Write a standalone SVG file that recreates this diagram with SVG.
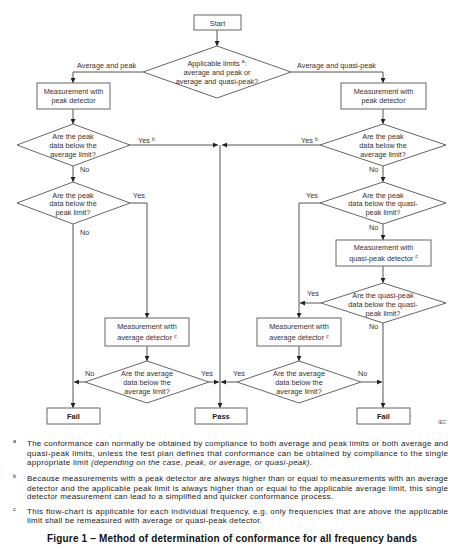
<svg xmlns="http://www.w3.org/2000/svg" width="474" height="553" viewBox="0 0 474 553">
<defs>
<marker id="ah" viewBox="0 0 6 6" refX="6" refY="3" markerWidth="5" markerHeight="5" orient="auto" markerUnits="userSpaceOnUse">
<path d="M0,0 L6,3 L0,6 z" fill="#222"/>
</marker>
<style>
.shape{fill:#fff;stroke:#666;stroke-width:1}
.ln{fill:none;stroke:#555;stroke-width:1;marker-end:url(#ah)}
.t{font-family:"Liberation Sans",Arial,sans-serif;font-size:7.3px;fill:#333;text-anchor:middle}
.lb{font-family:"Liberation Sans",Arial,sans-serif;font-size:7.3px;fill:#333}
.b{font-family:"Liberation Sans",Arial,sans-serif;font-size:7.5px;font-weight:bold;fill:#222;text-anchor:middle}
.fn{font-family:"Liberation Sans",Arial,sans-serif;font-size:8px;fill:#222}
.fl{font-family:"Liberation Sans",Arial,sans-serif;font-size:5.5px;fill:#222}
.sup{font-size:5px}
</style>
</defs>
<rect width="474" height="553" fill="#fff"/>

<g id="connectors">
<path class="ln" d="M217,30 V46"/>
<path class="ln" d="M143,72 H73 V83"/>
<path class="ln" d="M291,72 H383 V83"/>
<path class="ln" d="M73,109 V124"/>
<path class="ln" d="M130,145 H218"/>
<path class="ln" d="M73,166 V182"/>
<path class="ln" d="M130,203 H147 V318"/>
<path class="ln" d="M73,224 V408"/>
<path class="ln" d="M147,346 V361"/>
<path class="ln" d="M85,382 H74"/>
<path class="ln" d="M209,382 H219"/>
<path class="ln" d="M220,145 V408"/>
<path class="ln" d="M383,109 V124"/>
<path class="ln" d="M320,145 H222"/>
<path class="ln" d="M383,166 V182"/>
<path class="ln" d="M320,203 H299 V318"/>
<path class="ln" d="M383,224 V240"/>
<path class="ln" d="M383,266 V283"/>
<path class="ln" d="M321,303 H300"/>
<path class="ln" d="M383,323 V408"/>
<path class="ln" d="M299,346 V361"/>
<path class="ln" d="M237,382 H221"/>
<path class="ln" d="M361,382 H382"/>
<text class="lb" x="77" y="68">Average and peak</text>
<text class="lb" x="297" y="68">Average and quasi-peak</text>
<text class="lb" x="138" y="143">Yes <tspan class="sup" dy="-2.5">b</tspan></text>
<text class="lb" x="301" y="143">Yes <tspan class="sup" dy="-2.5">b</tspan></text>
<text class="lb" x="80" y="172">No</text>
<text class="lb" x="133" y="197.5">Yes</text>
<text class="lb" x="80" y="234.5">No</text>
<text class="lb" x="369" y="172">No</text>
<text class="lb" x="306" y="197.5">Yes</text>
<text class="lb" x="369" y="229.5">No</text>
<text class="lb" x="307" y="295.5">Yes</text>
<text class="lb" x="369" y="328.5">No</text>
<text class="lb" x="85" y="375.5">No</text>
<text class="lb" x="201" y="375.5">Yes</text>
<text class="lb" x="233" y="375.5">Yes</text>
<text class="lb" x="358" y="375.5">No</text>
</g>

<g id="start">
<rect class="shape" x="194" y="15" width="47" height="15"/>
<text class="t" x="217.5" y="25.5">Start</text>
</g>
<g id="limits">
<polygon class="shape" points="217,46 291,72 217,98 143,72"/>
<text class="t" x="217" y="65.5">Applicable limits <tspan class="sup" dy="-2.5">a</tspan><tspan dy="2.5">:</tspan></text>
<text class="t" x="217" y="74.5">average and peak or</text>
<text class="t" x="217" y="83.5">average and quasi-peak?</text>
</g>
<g id="peakL">
<rect class="shape" x="37" y="83" width="73" height="26"/>
<text class="t" x="73.5" y="93.5">Measurement with</text>
<text class="t" x="73.5" y="102.5">peak detector</text>
</g>
<g id="peakR">
<rect class="shape" x="341" y="83" width="85" height="26"/>
<text class="t" x="383.5" y="93.5">Measurement with</text>
<text class="t" x="383.5" y="102.5">peak detector</text>
</g>
<g id="dL1">
<polygon class="shape" points="73,124 130,145 73,166 17,145"/>
<text class="t" x="73" y="138.5">Are the peak</text>
<text class="t" x="73" y="147.5">data below the</text>
<text class="t" x="73" y="156.5">average limit?</text>
</g>
<g id="dL2">
<polygon class="shape" points="73,182 130,203 73,224 17,203"/>
<text class="t" x="73" y="197.5">Are the peak</text>
<text class="t" x="73" y="205.5">data below the</text>
<text class="t" x="73" y="214.5">peak limit?</text>
</g>
<g id="avgBoxL">
<rect class="shape" x="105" y="318" width="84" height="28"/>
<text class="t" x="147" y="328.5">Measurement with</text>
<text class="t" x="147" y="340">average detector <tspan class="sup" dy="-2.5">c</tspan></text>
</g>
<g id="dAvgL">
<polygon class="shape" points="147,361 209,382 147,403 85,382"/>
<text class="t" x="147" y="375.5">Are the average</text>
<text class="t" x="147" y="384.5">data below the</text>
<text class="t" x="147" y="393.5">average limit?</text>
</g>
<g id="dR1">
<polygon class="shape" points="383,124 446,145 383,166 320,145"/>
<text class="t" x="383" y="138.5">Are the peak</text>
<text class="t" x="383" y="147.5">data below the</text>
<text class="t" x="383" y="156.5">average limit?</text>
</g>
<g id="dR2">
<polygon class="shape" points="383,182 446,203 383,224 320,203"/>
<text class="t" x="383" y="197.5">Are the peak</text>
<text class="t" x="383" y="205.5">data below the quasi-</text>
<text class="t" x="383" y="214.5">peak limit?</text>
</g>
<g id="qpBox">
<rect class="shape" x="336" y="240" width="95" height="26"/>
<text class="t" x="383.5" y="249.5">Measurement with</text>
<text class="t" x="383.5" y="260.5">quasi-peak detector <tspan class="sup" dy="-2.5">c</tspan></text>
</g>
<g id="dR3">
<polygon class="shape" points="383,283 446,303 383,323 321,303"/>
<text class="t" x="383" y="297.5">Are the quasi-peak</text>
<text class="t" x="383" y="306.5">data below the quasi-</text>
<text class="t" x="383" y="315.5">peak limit?</text>
</g>
<g id="avgBoxR">
<rect class="shape" x="257" y="318" width="84" height="28"/>
<text class="t" x="299" y="328.5">Measurement with</text>
<text class="t" x="299" y="340">average detector <tspan class="sup" dy="-2.5">c</tspan></text>
</g>
<g id="dAvgR">
<polygon class="shape" points="299,361 361,382 299,403 237,382"/>
<text class="t" x="299" y="375.5">Are the average</text>
<text class="t" x="299" y="384.5">data below the</text>
<text class="t" x="299" y="393.5">average limit?</text>
</g>
<g id="failL">
<rect class="shape" x="47" y="408" width="53" height="16"/>
<text class="b" x="73.5" y="418.5">Fail</text>
</g>
<g id="pass">
<rect class="shape" x="195" y="408" width="52" height="16"/>
<text class="b" x="221" y="418.5">Pass</text>
</g>
<g id="failR">
<rect class="shape" x="357" y="408" width="53" height="16"/>
<text class="b" x="383.5" y="418.5">Fail</text>
</g>

<text x="438" y="424" font-family="Liberation Sans, Arial, sans-serif" font-size="5px" font-style="italic" fill="#555">IEC</text>

<g id="footnotes">
<text class="fl" x="13" y="443">a</text>
<text class="fn" x="27" y="446" textLength="421" lengthAdjust="spacing">The conformance can normally be obtained by compliance to both average and peak limits or both average and</text>
<text class="fn" x="27" y="455.5" textLength="421" lengthAdjust="spacing">quasi-peak limits, unless the test plan defines that conformance can be obtained by compliance to the single</text>
<text class="fn" x="27" y="465" textLength="285" lengthAdjust="spacing">appropriate limit <tspan font-style="italic">(depending on the case, peak, or average, or quasi-peak)</tspan>.</text>
<text class="fl" x="13" y="478">b</text>
<text class="fn" x="27" y="481" textLength="421" lengthAdjust="spacing">Because measurements with a peak detector are always higher than or equal to measurements with an average</text>
<text class="fn" x="27" y="490.5" textLength="421" lengthAdjust="spacing">detector and the applicable peak limit is always higher than or equal to the applicable average limit, this single</text>
<text class="fn" x="27" y="499" textLength="306" lengthAdjust="spacing">detector measurement can lead to a simplified and quicker conformance process.</text>
<text class="fl" x="13" y="511">c</text>
<text class="fn" x="27" y="513.5" textLength="421" lengthAdjust="spacing">This flow-chart is applicable for each individual frequency, e.g. only frequencies that are above the applicable</text>
<text class="fn" x="27" y="523" textLength="235" lengthAdjust="spacing">limit shall be remeasured with average or quasi-peak detector.</text>
</g>
<text x="47" y="541.5" font-family="Liberation Sans, Arial, sans-serif" font-size="10px" font-weight="bold" fill="#111" textLength="370" lengthAdjust="spacing">Figure 1 – Method of determination of conformance for all frequency bands</text>
</svg>
